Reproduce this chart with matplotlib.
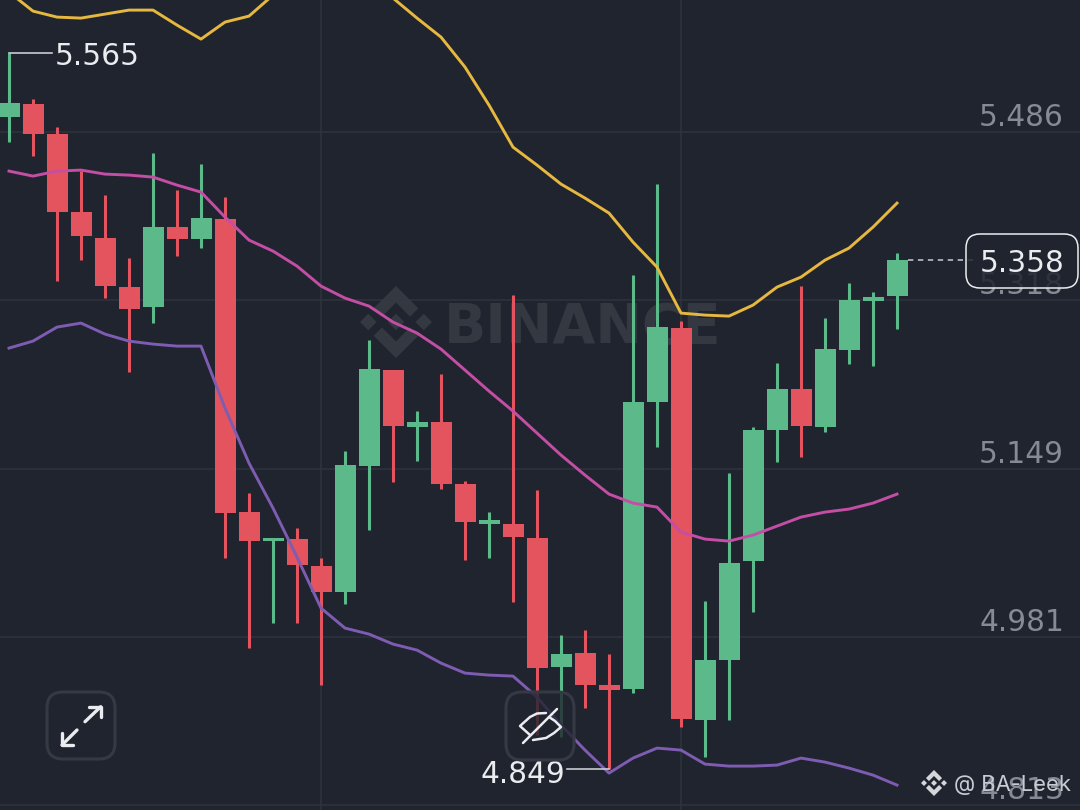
# -*- coding: utf-8 -*-
import numpy as np
import matplotlib
matplotlib.use('Agg')
import matplotlib.pyplot as plt
from matplotlib.patches import FancyBboxPatch, Polygon
from matplotlib.transforms import Affine2D

plt.rcParams['font.family'] = ['Inter', 'DejaVu Sans']

# Candles
opens = [5.501, 5.514, 5.484, 5.406, 5.380, 5.331, 5.311, 5.391, 5.379, 5.399,
         5.106, 5.077, 5.079, 5.052, 5.026, 5.152, 5.248, 5.191, 5.196, 5.134,
         5.094, 5.094, 5.080, 4.951, 4.965, 4.933, 4.929, 5.216, 5.290, 4.898,
         4.958, 5.057, 5.188, 5.229, 5.191, 5.268, 5.317, 5.322]
closes = [5.515, 5.484, 5.406, 5.382, 5.332, 5.309, 5.391, 5.379, 5.400, 5.105,
          5.077, 5.080, 5.053, 5.026, 5.153, 5.249, 5.192, 5.196, 5.134, 5.096,
          5.098, 5.081, 4.950, 4.964, 4.933, 4.928, 5.216, 5.291, 4.899, 4.958,
          5.055, 5.188, 5.229, 5.192, 5.269, 5.318, 5.321, 5.358]
highs = [5.565, 5.519, 5.491, 5.447, 5.423, 5.360, 5.465, 5.428, 5.454, 5.421,
         5.125, 5.080, 5.090, 5.060, 5.167, 5.278, 5.248, 5.207, 5.244, 5.137,
         5.106, 5.323, 5.128, 4.983, 4.988, 4.964, 5.343, 5.434, 5.297, 5.017,
         5.145, 5.191, 5.255, 5.332, 5.300, 5.335, 5.326, 5.365]
lows = [5.476, 5.462, 5.337, 5.358, 5.320, 5.246, 5.295, 5.362, 5.370, 5.060,
        4.970, 4.995, 4.995, 4.933, 5.014, 5.088, 5.136, 5.157, 5.129, 5.058,
        5.060, 5.016, 4.883, 4.881, 4.910, 4.849, 4.925, 5.171, 4.891, 4.861,
        4.898, 5.006, 5.156, 5.161, 5.186, 5.254, 5.252, 5.289]

# Bollinger bands
upper = [5.626, 5.607, 5.601, 5.600, 5.604, 5.608, 5.608, 5.593, 5.579, 5.596,
         5.602, 5.623, 5.643, 5.658, 5.663, 5.643, 5.620, 5.600, 5.581, 5.551,
         5.513, 5.471, 5.453, 5.434, 5.420, 5.405, 5.376, 5.351, 5.305, 5.303,
         5.302, 5.313, 5.331, 5.341, 5.358, 5.370, 5.391, 5.415]
middle = [5.447, 5.442, 5.447, 5.448, 5.444, 5.443, 5.441, 5.433, 5.426, 5.401,
          5.378, 5.367, 5.352, 5.332, 5.320, 5.312, 5.296, 5.285, 5.269, 5.248,
          5.227, 5.207, 5.185, 5.163, 5.143, 5.124, 5.115, 5.111, 5.086, 5.079,
          5.077, 5.083, 5.092, 5.101, 5.106, 5.109, 5.115, 5.124]
lower = [5.270, 5.277, 5.291, 5.295, 5.284, 5.277, 5.274, 5.272, 5.272, 5.210,
         5.155, 5.110, 5.061, 5.010, 4.990, 4.984, 4.974, 4.968, 4.955, 4.945,
         4.943, 4.942, 4.921, 4.893, 4.868, 4.845, 4.860, 4.870, 4.868, 4.854,
         4.852, 4.852, 4.853, 4.860, 4.856, 4.850, 4.843, 4.833]

price_ticks = [5.486, 5.318, 5.149, 4.981, 4.813]
time_ticks = [13, 28]
high_label = 5.565
low_label = 4.849
last_price = 5.358
high_index = 0
low_index = 25
last_index = 37

BG = '#20242e'
GRID = '#2f333e'
GREEN = '#5cba8a'
RED = '#e4545f'
YELLOW = '#e6b83f'
PINK = '#c44ea5'
PURPLE = '#7d5cb2'
TICK = '#848a96'
WHITE = '#eaecef'
MARK = '#343841'
BTN = '#343945'
NUM_FONT = 'DejaVu Sans'
NUM_SIZE = 21.3

fig = plt.figure(figsize=(10.8, 8.1), dpi=100, facecolor=BG)
ax = fig.add_axes([0, 0, 1, 1], facecolor=BG)
ax.set_xlim(-0.375, 44.625)
ax.set_ylim(4.8081, 5.6181)

# picture pixels (origin top left) for the decorations
px = Affine2D().scale(1 / 1080, -1 / 810).translate(0, 1) + fig.transFigure
y_axis = ax.get_yaxis_transform()

ax.set_xticks(time_ticks)
ax.set_yticks(price_ticks)
ax.tick_params(length=0, labelleft=False, labelbottom=False)
ax.grid(True, color=GRID, lw=1.1, zorder=0)
ax.set_axisbelow(True)
for s in ax.spines.values():
    s.set_visible(False)


def binance_logo(cx, cy, r, color, zorder):
    parts = [
        [(0, -0.23), (0.23, 0), (0, 0.23), (-0.23, 0)],
        [(-0.77, -0.23), (-0.54, 0), (-0.77, 0.23), (-1, 0)],
        [(0.77, -0.23), (1, 0), (0.77, 0.23), (0.54, 0)],
        [(0, -1), (0.62, -0.38), (0.39, -0.15), (0, -0.54), (-0.39, -0.15), (-0.62, -0.38)],
        [(0, 1), (0.62, 0.38), (0.39, 0.15), (0, 0.54), (-0.39, 0.15), (-0.62, 0.38)],
    ]
    for p in parts:
        pts = [(cx + a * r, cy + b * r) for a, b in p]
        ax.add_patch(Polygon(pts, closed=True, fc=color, ec='none', transform=px, zorder=zorder))


def pline(xs, ys, color=WHITE, lw=1.8, zorder=12, **kw):
    ax.plot(xs, ys, color=color, lw=lw, transform=px, zorder=zorder, clip_on=False, **kw)


def button(x0, y0, x1, y1):
    ax.add_patch(FancyBboxPatch((x0 + 16, y0 + 16), x1 - x0 - 32, y1 - y0 - 32,
                                boxstyle='round,pad=16,rounding_size=16',
                                fc=BG, alpha=0.8, ec='none', transform=px, zorder=10))
    ax.add_patch(FancyBboxPatch((x0 + 16, y0 + 16), x1 - x0 - 32, y1 - y0 - 32,
                                boxstyle='round,pad=16,rounding_size=16',
                                fc='none', ec=BTN, lw=2.2, transform=px, zorder=11))


# watermark
binance_logo(396, 322, 36, MARK, 1)
ax.text(444, 322, 'BINANCE', color=MARK, fontsize=40, fontweight='bold', family='DejaVu Sans',
        ha='left', va='center_baseline', transform=px, zorder=1)

# candles
x = np.arange(len(opens))
o = np.array(opens)
c = np.array(closes)
colors = [GREEN if b >= a else RED for a, b in zip(opens, closes)]
ax.vlines(x, lows, highs, colors=colors, lw=2.2, zorder=3)
ax.bar(x, np.abs(c - o), bottom=np.minimum(o, c), width=0.875, color=colors, lw=0, zorder=4)

# bands
ax.plot(x, upper, color=YELLOW, lw=2.1, zorder=5)
ax.plot(x, middle, color=PINK, lw=2.1, zorder=5)
ax.plot(x, lower, color=PURPLE, lw=2.1, zorder=5)

# price labels
for p in price_ticks:
    ax.annotate('%.3f' % p, xy=(1064 / 1080, p), xycoords=y_axis, xytext=(0, 18),
                textcoords='offset pixels', color=TICK, fontsize=NUM_SIZE, family=NUM_FONT,
                ha='right', va='center_baseline', zorder=6)

# high and low markers
ax.plot([high_index, high_index + 1.8], [high_label, high_label], color='#c8ccd2', lw=1.2, zorder=8)
ax.annotate('%.3f' % high_label, xy=(high_index, high_label), xytext=(46, 0),
            textcoords='offset pixels', color=WHITE, fontsize=NUM_SIZE, family=NUM_FONT,
            ha='left', va='center_baseline', zorder=8)
ax.plot([low_index - 1.75, low_index], [low_label, low_label], color='#c8ccd2', lw=1.2, zorder=8)
ax.annotate('%.3f' % low_label, xy=(low_index, low_label), xytext=(-44, -2),
            textcoords='offset pixels', color=WHITE, fontsize=NUM_SIZE, family=NUM_FONT,
            ha='right', va='center_baseline', zorder=8)

# last price
ax.plot([last_index + 0.46, 44.6 - 4.0 - 0.3], [last_price, last_price], color='#c8ccd2',
        lw=1.1, dashes=(3.5, 3), zorder=6)
ax.add_patch(FancyBboxPatch((980, 248), 84, 26, boxstyle='round,pad=14,rounding_size=14',
                            fc=BG, alpha=0.85, ec='none', transform=px, zorder=7))
ax.add_patch(FancyBboxPatch((980, 248), 84, 26, boxstyle='round,pad=14,rounding_size=14',
                            fc='none', ec=WHITE, lw=1.1, transform=px, zorder=8))
ax.annotate('%.3f' % last_price, xy=(1064 / 1080, last_price), xycoords=y_axis,
            color=WHITE, fontsize=NUM_SIZE, family=NUM_FONT, ha='right',
            va='center_baseline', zorder=9)

# expand button
button(47, 692, 115, 759)
pline([85, 100.7], [721.7, 706.7], solid_capstyle='round', lw=2.4)
pline([89, 100.7, 100.7], [707, 707, 717], solid_capstyle='round', lw=2.4)
pline([77, 62], [730, 745], solid_capstyle='round', lw=2.4)
pline([62, 62, 73], [733, 745, 745], solid_capstyle='round', lw=2.4)

# hide button
button(506, 692, 574, 760)
pline([546, 537, 530, 520, 530], [713, 713.5, 717, 726, 735], lw=1.8, solid_capstyle='round')
pline([549, 555, 561, 554, 546, 533], [717, 721, 727, 733, 738, 740], lw=1.8, solid_capstyle='round')
pline([523, 557], [743, 709], lw=1.8, solid_capstyle='round')

# footer
binance_logo(934, 783, 13, '#d4d6da', 12)
ax.text(954, 783, '@ BA-Leek', color='#c8ccd2', fontsize=15.8, ha='left',
        va='center_baseline', transform=px, zorder=12)

plt.savefig('out.png', dpi=100, facecolor=BG)
